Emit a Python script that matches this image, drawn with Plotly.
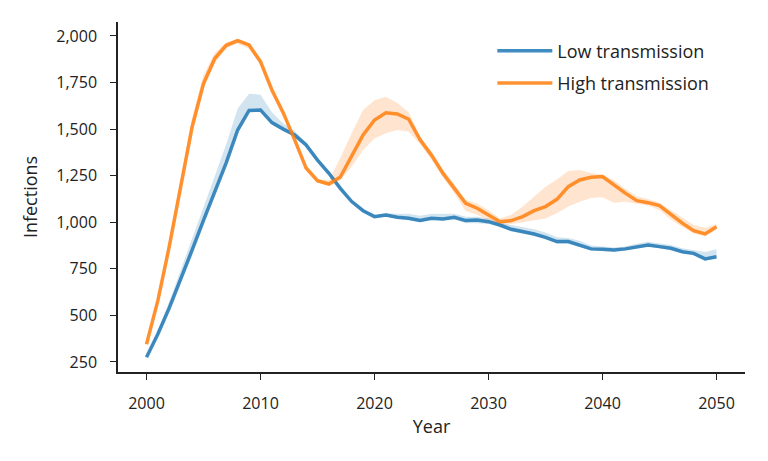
import plotly.graph_objects as go

years = list(range(2000, 2051))

low_mean = [275, 400, 540, 690, 850, 1010, 1170, 1320, 1495, 1600,
            1603, 1535, 1500, 1468, 1415, 1334, 1263, 1182, 1111, 1062,
            1030, 1039, 1027, 1021, 1009, 1021, 1018, 1027, 1009, 1012,
            1003, 985, 962, 950, 937, 919, 896, 896, 878, 857,
            855, 851, 857, 866, 878, 869, 860, 842, 833, 803, 815]
low_lo = [270, 395, 535, 685, 845, 1005, 1165, 1315, 1490, 1595,
          1590, 1525, 1490, 1460, 1405, 1325, 1255, 1175, 1105, 1055,
          1025, 1030, 1020, 1012, 1000, 1012, 1010, 1015, 995, 995,
          990, 975, 950, 940, 928, 910, 885, 885, 868, 848,
          845, 842, 848, 857, 868, 860, 850, 833, 823, 795, 805]
low_hi = [280, 420, 575, 740, 910, 1080, 1250, 1420, 1610, 1690,
          1685, 1590, 1530, 1490, 1430, 1345, 1275, 1195, 1120, 1070,
          1040, 1050, 1045, 1045, 1035, 1045, 1045, 1045, 1030, 1030,
          1020, 1000, 985, 975, 962, 945, 920, 915, 900, 875,
          870, 865, 870, 885, 895, 885, 878, 860, 852, 840, 855]

high_mean = [345, 580, 870, 1190, 1510, 1745, 1880, 1950, 1975, 1952,
             1862, 1710, 1587, 1442, 1291, 1223, 1205, 1243, 1361, 1469,
             1549, 1588, 1581, 1553, 1442, 1360, 1263, 1182, 1102, 1075,
             1039, 1003, 1009, 1030, 1062, 1084, 1123, 1191, 1227, 1241,
             1245, 1200, 1156, 1116, 1105, 1089, 1039, 995, 955, 937, 976]
high_lo = [340, 575, 865, 1185, 1500, 1720, 1855, 1935, 1960, 1930,
           1850, 1700, 1575, 1430, 1280, 1210, 1195, 1227, 1298, 1388,
           1450, 1478, 1495, 1486, 1420, 1335, 1240, 1155, 1060, 1040,
           1010, 985, 990, 1000, 1010, 1020, 1048, 1084, 1110, 1130,
           1134, 1105, 1110, 1100, 1090, 1065, 1015, 975, 940, 925, 960]
high_hi = [350, 600, 910, 1240, 1560, 1790, 1910, 1965, 1985, 1960,
           1870, 1720, 1600, 1455, 1300, 1230, 1225, 1345, 1479, 1603,
           1655, 1674, 1640, 1590, 1460, 1380, 1285, 1205, 1120, 1100,
           1065, 1020, 1040, 1085, 1140, 1190, 1230, 1275, 1281, 1265,
           1255, 1225, 1180, 1140, 1125, 1105, 1065, 1025, 985, 970, 990]

series = [
    ("Low transmission", low_mean, low_lo, low_hi, (31, 119, 180)),
    ("High transmission", high_mean, high_lo, high_hi, (255, 127, 14)),
]

y_ticks = [250, 500, 750, 1000, 1250, 1500, 1750, 2000]
x_ticks = [2000, 2010, 2020, 2030, 2040, 2050]

fig = go.Figure()
for name, mean, lo, hi, (r, g, b) in series:
    fig.add_trace(go.Scatter(x=years, y=lo, mode="lines", line=dict(width=0),
                             showlegend=False, hoverinfo="skip"))
    fig.add_trace(go.Scatter(x=years, y=hi, mode="lines", line=dict(width=0),
                             fill="tonexty", fillcolor=f"rgba({r},{g},{b},0.2)",
                             showlegend=False, hoverinfo="skip"))
for name, mean, lo, hi, (r, g, b) in series:
    fig.add_trace(go.Scatter(x=years, y=mean, mode="lines", name=name,
                             legendgroup=name,
                             line=dict(color=f"rgba({r},{g},{b},0.85)", width=3.5)))

axis_common = dict(showline=True, linecolor="#222222", linewidth=1.5,
                   ticks="outside", ticklen=6, tickwidth=1.3, tickcolor="#222222",
                   showgrid=False, zeroline=False,
                   tickfont=dict(size=16, color="#222222"))

fig.update_layout(
    width=768, height=461,
    margin=dict(l=110, r=31, t=14, b=97),
    paper_bgcolor="white", plot_bgcolor="white",
    font=dict(family="Open Sans, Lato, sans-serif", color="#222222"),
    xaxis=dict(range=[1997.5, 2052.5], tickvals=x_ticks,
               title=dict(text="Year", font=dict(size=18), standoff=7),
               ticklabelstandoff=10, **axis_common),
    yaxis=dict(range=[196, 2075], tickvals=y_ticks, tickformat=",d",
               title=dict(text="Infections", font=dict(size=18), standoff=14),
               ticklabelstandoff=10, **axis_common),
    legend=dict(x=0.597, y=0.97, xanchor="left", yanchor="top",
                font=dict(size=18), bgcolor="rgba(0,0,0,0)",
                itemwidth=55,
                traceorder="grouped", tracegroupgap=6),
)

fig.write_html("out.html")
